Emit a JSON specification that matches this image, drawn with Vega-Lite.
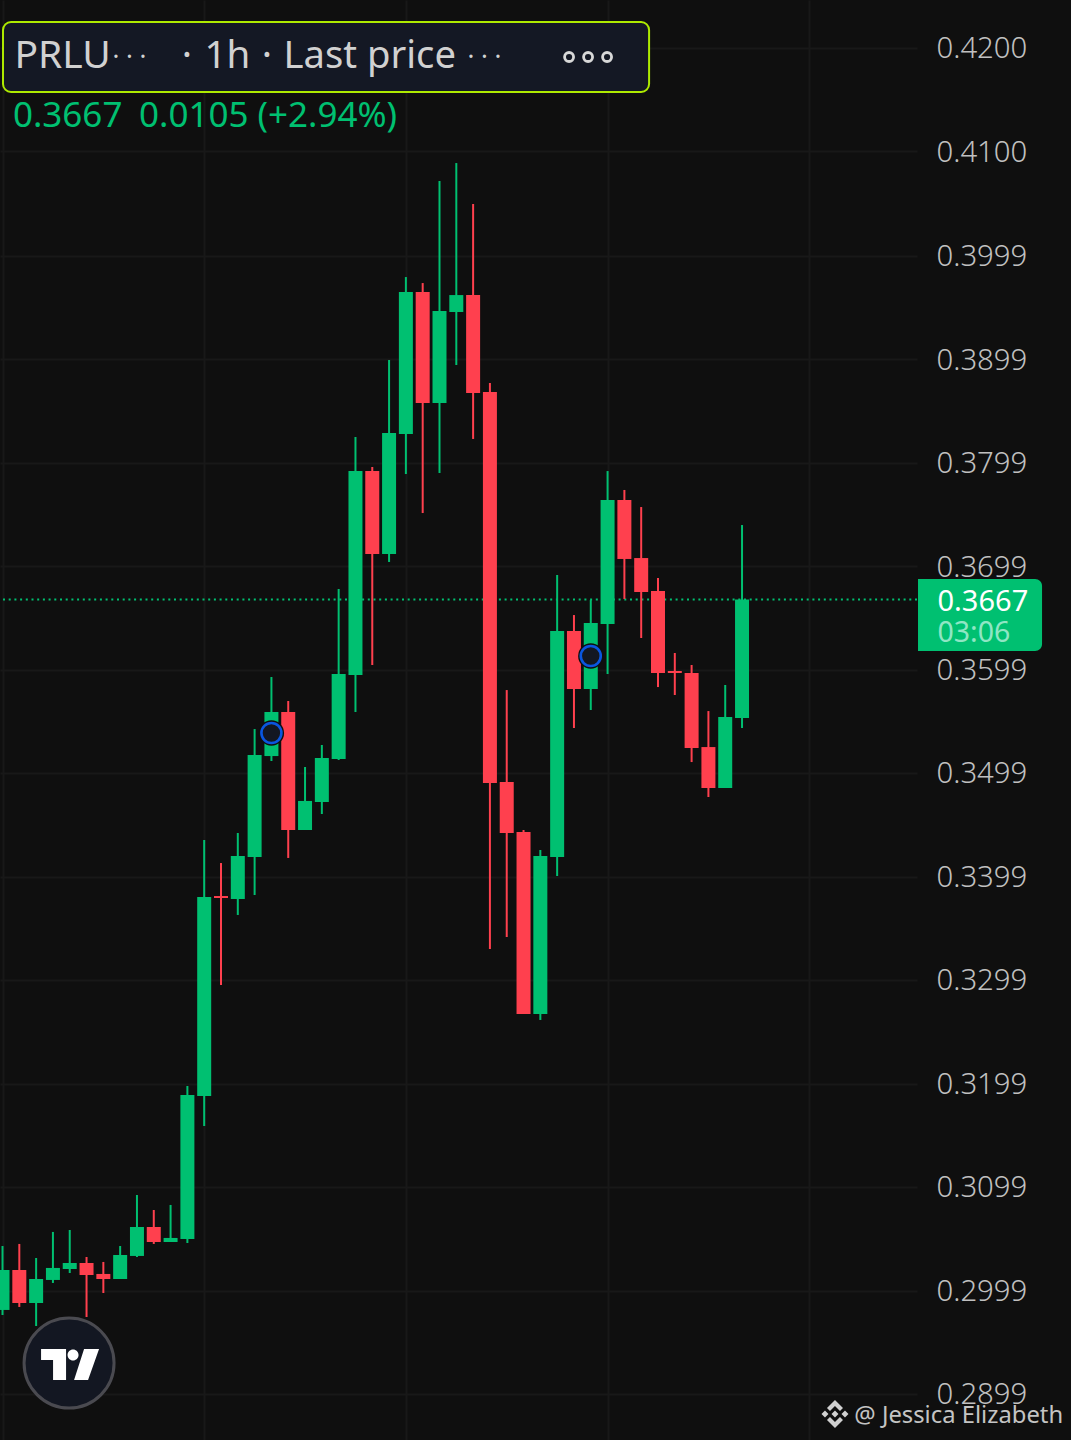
{"$schema":"https://vega.github.io/schema/vega-lite/v6.json","width":917,"height":1440,"autosize":{"type":"none"},"padding":{"left":0,"top":0,"right":154,"bottom":0},"background":"#0f0f0f","config":{"view":{"stroke":null},"text":{"font":"Noto Sans","align":"left","baseline":"alphabetic"}},
"datasets":{"candles":[
{"bar":0,"open":0.29802,"high":0.3042,"low":0.29753,"close":0.30188},
{"bar":1,"open":0.30188,"high":0.3044,"low":0.29831,"close":0.29869},
{"bar":2,"open":0.29869,"high":0.30304,"low":0.29647,"close":0.30101},
{"bar":3,"open":0.30092,"high":0.30556,"low":0.30063,"close":0.30208},
{"bar":4,"open":0.30198,"high":0.30575,"low":0.30159,"close":0.30256},
{"bar":5,"open":0.30256,"high":0.30314,"low":0.29734,"close":0.3014},
{"bar":6,"open":0.3015,"high":0.30266,"low":0.29966,"close":0.30101},
{"bar":7,"open":0.30101,"high":0.3042,"low":0.30101,"close":0.30333},
{"bar":8,"open":0.30324,"high":0.30913,"low":0.30314,"close":0.30604},
{"bar":9,"open":0.30604,"high":0.30768,"low":0.3044,"close":0.30459},
{"bar":10,"open":0.30459,"high":0.30817,"low":0.30459,"close":0.30498},
{"bar":11,"open":0.30488,"high":0.31967,"low":0.30449,"close":0.3188},
{"bar":12,"open":0.3187,"high":0.34345,"low":0.3158,"close":0.33794},
{"bar":13,"open":0.33803,"high":0.34122,"low":0.32943,"close":0.33784},
{"bar":14,"open":0.33774,"high":0.34412,"low":0.3362,"close":0.3419},
{"bar":15,"open":0.3418,"high":0.35417,"low":0.33813,"close":0.35166},
{"bar":16,"open":0.35156,"high":0.3592,"low":0.35108,"close":0.35582},
{"bar":17,"open":0.35582,"high":0.35688,"low":0.34171,"close":0.34441},
{"bar":18,"open":0.34441,"high":0.3505,"low":0.34441,"close":0.34722},
{"bar":19,"open":0.34712,"high":0.35263,"low":0.34596,"close":0.35137},
{"bar":20,"open":0.35127,"high":0.36771,"low":0.35118,"close":0.35949},
{"bar":21,"open":0.35939,"high":0.3824,"low":0.35582,"close":0.37911},
{"bar":22,"open":0.37911,"high":0.3795,"low":0.36036,"close":0.37109},
{"bar":23,"open":0.37109,"high":0.38984,"low":0.37032,"close":0.38279},
{"bar":24,"open":0.38269,"high":0.39786,"low":0.37882,"close":0.39641},
{"bar":25,"open":0.39641,"high":0.39728,"low":0.37505,"close":0.38569},
{"bar":26,"open":0.38569,"high":0.40714,"low":0.37892,"close":0.39458},
{"bar":27,"open":0.39448,"high":0.40888,"low":0.38936,"close":0.39612},
{"bar":28,"open":0.39612,"high":0.40492,"low":0.38221,"close":0.38665},
{"bar":29,"open":0.38675,"high":0.38762,"low":0.33291,"close":0.34895},
{"bar":30,"open":0.34905,"high":0.35794,"low":0.33407,"close":0.34412},
{"bar":31,"open":0.34422,"high":0.34441,"low":0.32663,"close":0.32663},
{"bar":32,"open":0.32663,"high":0.34248,"low":0.32605,"close":0.3419},
{"bar":33,"open":0.3418,"high":0.36906,"low":0.33997,"close":0.36365},
{"bar":34,"open":0.36365,"high":0.36519,"low":0.35427,"close":0.35804},
{"bar":35,"open":0.35804,"high":0.36664,"low":0.35601,"close":0.36442},
{"bar":36,"open":0.36432,"high":0.37911,"low":0.35949,"close":0.37631},
{"bar":37,"open":0.37631,"high":0.37728,"low":0.36674,"close":0.37061},
{"bar":38,"open":0.3707,"high":0.37563,"low":0.36297,"close":0.36742},
{"bar":39,"open":0.36751,"high":0.36877,"low":0.35823,"close":0.35959},
{"bar":40,"open":0.35978,"high":0.36152,"low":0.35746,"close":0.35959},
{"bar":41,"open":0.35959,"high":0.36036,"low":0.35098,"close":0.35234},
{"bar":42,"open":0.35243,"high":0.35591,"low":0.3476,"close":0.34847},
{"bar":43,"open":0.34847,"high":0.35843,"low":0.34847,"close":0.35533},
{"bar":44,"open":0.35524,"high":0.37389,"low":0.35427,"close":0.3667}
],"markers":[{"bar":16,"price":0.35379},{"bar":35,"price":0.36123}],"one":[{}]},
"layer":[
{"data":{"name":"one"},"mark":{"type":"rule","stroke":"#00c071","strokeWidth":2,"strokeDash":[2,3.7]},"encoding":{"y":{"datum":0.3667,"type":"quantitative","scale":{"domain":[0.28545,0.42464],"zero":false,"nice":false},"axis":{"orient":"right","title":null,"values":[0.42,0.41,0.3999,0.3899,0.3799,0.3699,0.3599,0.3499,0.3399,0.3299,0.3199,0.3099,0.2999,0.2899],"format":".4f","labelFont":"Noto Sans","labelFontSize":29.3,"labelFontWeight":300,"labelColor":"#c0c0c0","labelPadding":19,"labelAlign":"left","labelBaseline":"middle","labelOffset":0.7,"labelOverlap":false,"labelFlush":false,"domain":false,"ticks":false,"grid":true,"gridColor":"#181818","gridWidth":2}}}},
{"data":{"name":"candles"},"mark":{"type":"rule","strokeWidth":2},"encoding":{"x":{"field":"bar","type":"quantitative","scale":{"domain":[-0.149,54.41],"nice":false,"zero":false,"padding":0},"axis":{"title":null,"values":[0,12,24,36,48],"labels":false,"domain":false,"ticks":false,"grid":true,"gridColor":"#181818","gridWidth":2}},"y":{"field":"low","type":"quantitative"},"y2":{"field":"high"},"color":{"condition":{"test":"datum.close >= datum.open","value":"#00c071"},"value":"#ff404e"}}},
{"data":{"name":"candles"},"mark":{"type":"bar","size":14},"encoding":{"x":{"field":"bar","type":"quantitative"},"y":{"field":"open","type":"quantitative"},"y2":{"field":"close"},"color":{"condition":{"test":"datum.close >= datum.open","value":"#00c071"},"value":"#ff404e"}}},
{"data":{"name":"markers"},"mark":{"type":"point","shape":"circle","filled":true,"size":640,"color":"#0f0f0f","opacity":1},"encoding":{"x":{"field":"bar","type":"quantitative"},"y":{"field":"price","type":"quantitative"}}},
{"data":{"name":"markers"},"mark":{"type":"point","shape":"circle","filled":false,"size":400,"fill":"#131722","fillOpacity":1,"stroke":"#0a56e0","strokeWidth":2.6,"opacity":1},"encoding":{"x":{"field":"bar","type":"quantitative"},"y":{"field":"price","type":"quantitative"}}},
{"data":{"name":"one"},"mark":{"type":"rect","fill":"#141824","stroke":"#aeea00","strokeWidth":2,"cornerRadius":8},"encoding":{"x":{"datum":0.03,"type":"quantitative"},"x2":{"datum":38.47},"y":{"datum":0.42251,"type":"quantitative"},"y2":{"datum":0.41575}}},
{"data":{"name":"one"},"mark":{"type":"text","text":"PRLU","fontSize":39,"fill":"#d1d1d1"},"encoding":{"x":{"datum":0.71,"type":"quantitative"},"y":{"datum":0.41802,"type":"quantitative"}}},
{"data":{"name":"one"},"mark":{"type":"text","text":"· · ·","fontSize":25.6,"fill":"#d1d1d1"},"encoding":{"x":{"datum":6.55,"type":"quantitative"},"y":{"datum":0.41836,"type":"quantitative"}}},
{"data":{"name":"one"},"mark":{"type":"text","text":"·","fontSize":38.5,"fill":"#d1d1d1"},"encoding":{"x":{"datum":10.67,"type":"quantitative"},"y":{"datum":0.41802,"type":"quantitative"}}},
{"data":{"name":"one"},"mark":{"type":"text","text":"1h","fontSize":38.5,"fill":"#d1d1d1"},"encoding":{"x":{"datum":12.02,"type":"quantitative"},"y":{"datum":0.41802,"type":"quantitative"}}},
{"data":{"name":"one"},"mark":{"type":"text","text":"·","fontSize":38.5,"fill":"#d1d1d1"},"encoding":{"x":{"datum":15.42,"type":"quantitative"},"y":{"datum":0.41802,"type":"quantitative"}}},
{"data":{"name":"one"},"mark":{"type":"text","text":"Last price","fontSize":38.2,"fill":"#d1d1d1"},"encoding":{"x":{"datum":16.72,"type":"quantitative"},"y":{"datum":0.41802,"type":"quantitative"}}},
{"data":{"name":"one"},"mark":{"type":"text","text":"· · ·","fontSize":25.6,"fill":"#d1d1d1"},"encoding":{"x":{"datum":27.67,"type":"quantitative"},"y":{"datum":0.41836,"type":"quantitative"}}},
{"data":{"name":"one"},"mark":{"type":"point","filled":false,"size":4,"stroke":"#d8d8d8","strokeWidth":2.8,"opacity":1,"shape":"M-14.5,0 A4.5,4.5 0 1,0 -23.5,0 A4.5,4.5 0 1,0 -14.5,0 Z M4.5,0 A4.5,4.5 0 1,0 -4.5,0 A4.5,4.5 0 1,0 4.5,0 Z M23.5,0 A4.5,4.5 0 1,0 14.5,0 A4.5,4.5 0 1,0 23.5,0 Z"},"encoding":{"x":{"datum":34.84,"type":"quantitative"},"y":{"datum":0.41913,"type":"quantitative"}}},
{"data":{"name":"one"},"mark":{"type":"text","text":"0.3667","fontSize":35,"fill":"#00c071"},"encoding":{"x":{"datum":0.62,"type":"quantitative"},"y":{"datum":0.41236,"type":"quantitative"}}},
{"data":{"name":"one"},"mark":{"type":"text","text":"0.0105 (+2.94%)","fontSize":35,"fill":"#00c071"},"encoding":{"x":{"datum":8.12,"type":"quantitative"},"y":{"datum":0.41236,"type":"quantitative"}}},
{"data":{"name":"one"},"mark":{"type":"rect","fill":"#00c071","cornerRadiusTopRight":7,"cornerRadiusBottomRight":7},"encoding":{"x":{"datum":54.47,"type":"quantitative"},"x2":{"datum":61.85},"y":{"datum":0.36868,"type":"quantitative"},"y2":{"datum":0.36171}}},
{"data":{"name":"one"},"mark":{"type":"text","text":"0.3667","fontSize":29,"fill":"#ffffff"},"encoding":{"x":{"datum":55.63,"type":"quantitative"},"y":{"datum":0.36558,"type":"quantitative"}}},
{"data":{"name":"one"},"mark":{"type":"text","text":"03:06","fontSize":28.5,"fill":"#8fe6c4"},"encoding":{"x":{"datum":55.63,"type":"quantitative"},"y":{"datum":0.36258,"type":"quantitative"}}},
{"data":{"name":"one"},"mark":{"type":"text","text":"@ Jessica Elizabeth","fontSize":23.8,"fill":"#c4c4c4"},"encoding":{"x":{"datum":50.68,"type":"quantitative"},"y":{"datum":0.28709,"type":"quantitative"}}},
{"data":{"name":"one"},"mark":{"type":"point","filled":true,"size":4,"fill":"#d0d0d0","opacity":1,"strokeWidth":0,"shape":"M0,-14 L8,-6 L5,-3 L0,-8 L-5,-3 L-8,-6 Z M0,14 L8,6 L5,3 L0,8 L-5,3 L-8,6 Z M0,-3.5 L3.5,0 L0,3.5 L-3.5,0 Z M-10,-3.5 L-6.5,0 L-10,3.5 L-13.5,0 Z M10,-3.5 L13.5,0 L10,3.5 L6.5,0 Z"},"encoding":{"x":{"datum":49.53,"type":"quantitative"},"y":{"datum":0.28796,"type":"quantitative"}}},
{"data":{"name":"one"},"mark":{"type":"point","shape":"circle","filled":false,"size":8100,"fill":"#131722","fillOpacity":1,"stroke":"#4a4a50","strokeWidth":3,"opacity":1},"encoding":{"x":{"datum":3.96,"type":"quantitative"},"y":{"datum":0.29289,"type":"quantitative"}}},
{"data":{"name":"one"},"mark":{"type":"point","filled":true,"size":4,"fill":"#ffffff","opacity":1,"strokeWidth":0,"shape":"M-28,-14 L-3,-14 L-3,17 L-16,17 L-16,-3 L-28,-3 Z M15,-14 L30,-14 L19,17 L5,17 Z M9.5,-8 A5.5,5.5 0 1,0 -1.5,-8 A5.5,5.5 0 1,0 9.5,-8 Z"},"encoding":{"x":{"datum":3.96,"type":"quantitative"},"y":{"datum":0.29289,"type":"quantitative"}}}
]}
